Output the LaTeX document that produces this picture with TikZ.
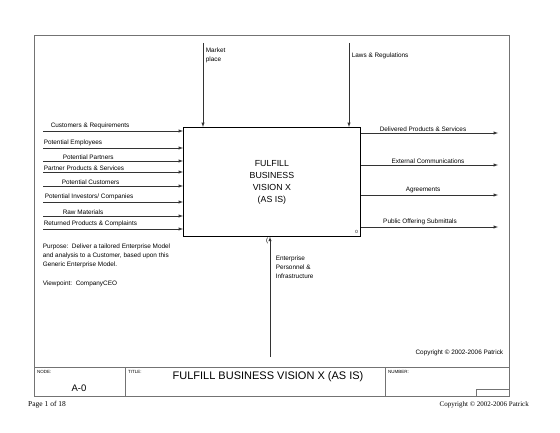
\documentclass[tikz,border=0pt]{standalone}
\usepackage{fontspec}
\setmainfont{Liberation Sans}
\newfontfamily\pagefont{Liberation Serif}
\usetikzlibrary{
    arrows,
    positioning
}

\begin{document}
\begin{tikzpicture}[x=1pt, y=-1pt, >=latex,
    lbl/.style={font=\fontsize{6.4}{8.8}\selectfont, inner sep=0.6pt},
    frm/.style={draw=black!55, line width=0.6pt},
    flow/.style={->, black!80, line width=0.5pt},
    tiny/.style={font=\fontsize{4.5}{5}\selectfont, inner sep=0pt, anchor=north west}]
\useasboundingbox (0,0) rectangle (560,433);

% sheet frame and title block
\draw[frm] (34,35) rectangle (509,396);
\draw[frm] (34,367) -- (509,367);
\draw[frm] (125,367) -- (125,396);
\draw[frm] (385,367) -- (385,396);
\draw[frm] (476,396) |- (509,389);

% activity box
\node[draw, line width=0.8pt, minimum width=177pt, minimum height=109pt,
      anchor=north west, align=center, font=\fontsize{8.8}{12}\selectfont]
      (fn) at (183,127) {FULFILL\\BUSINESS\\VISION X\\(AS IS)};
\node[tiny, anchor=south east] (fnno) at (358,234) {0};

% inputs
\coordinate (i1) at (43,131);
\coordinate (i2) at (43,148);
\coordinate (i3) at (43,161);
\coordinate (i4) at (43,172);
\coordinate (i5) at (43,186);
\coordinate (i6) at (43,202);
\coordinate (i7) at (43,216);
\coordinate (i8) at (43,229);
\draw[flow] (i1) -- (i1 -| fn.west);
\draw[flow] (i2) -- (i2 -| fn.west);
\draw[flow] (i3) -- (i3 -| fn.west);
\draw[flow] (i4) -- (i4 -| fn.west);
\draw[flow] (i5) -- (i5 -| fn.west);
\draw[flow] (i6) -- (i6 -| fn.west);
\draw[flow] (i7) -- (i7 -| fn.west);
\draw[flow] (i8) -- (i8 -| fn.west);
\node[lbl, anchor=south west] (li1) at (50,130) {Customers \& Requirements};
\node[lbl, anchor=south west] (li2) at (43,147) {Potential Employees};
\node[lbl, anchor=south west] (li3) at (62,160) {Potential Partners};
\node[lbl, anchor=south west] (li4) at (43,171) {Partner Products \& Services};
\node[lbl, anchor=south west] (li5) at (61,185) {Potential Customers};
\node[lbl, anchor=south west] (li6) at (44,201) {Potential Investors/ Companies};
\node[lbl, anchor=south west] (li7) at (62,215) {Raw Materials};
\node[lbl, anchor=south west] (li8) at (43,228) {Returned Products \& Complaints};

% outputs
\coordinate (o1) at (498,133);
\coordinate (o2) at (498,165);
\coordinate (o3) at (498,195);
\coordinate (o4) at (498,227);
\draw[flow] (o1 -| fn.east) -- (o1);
\draw[flow] (o2 -| fn.east) -- (o2);
\draw[flow] (o3 -| fn.east) -- (o3);
\draw[flow] (o4 -| fn.east) -- (o4);
\node[lbl, anchor=south] (lo1) at (423,132) {Delivered Products \& Services};
\node[lbl, anchor=south] (lo2) at (428,164) {External Communications};
\node[lbl, anchor=south] (lo3) at (423,194) {Agreements};
\node[lbl, anchor=south] (lo4) at (420,226) {Public Offering Submittals};

% controls
\coordinate (c1) at (203,43);
\coordinate (c2) at (349,43);
\draw[flow] (c1) -- (c1 |- fn.north);
\draw[flow] (c2) -- (c2 |- fn.north);
\node[lbl, anchor=north west, align=left] (lc1) at (205,47) {Market\\place};
\node[lbl, anchor=north west] (lc2) at (351,52) {Laws \& Regulations};

% mechanism
\coordinate (m1) at (270,357);
\draw[flow] (m1) -- (m1 |- fn.south);
\node[lbl, anchor=east, inner sep=0pt] (tun) at (268.5,241) {(};
\node[lbl, anchor=north west, align=left] (lm1) at (275,255)
      {Enterprise\\Personnel \&\\Infrastructure};

% notes
\node[lbl, anchor=north west, align=left] (purpose) at (42,243)
      {Purpose:\ \ Deliver a tailored Enterprise Model\\and analysis to a Customer, based upon this\\Generic Enterprise Model.};
\node[lbl, anchor=north west] (viewpt) at (42,280) {Viewpoint:\ \ CompanyCEO};
\node[lbl, anchor=south east] (copyin) at (504,357) {Copyright \textcopyright{} 2002-2006 Patrick};

% title block texts
\node[tiny] (nodehd) at (37,370) {NODE:};
\node[font=\fontsize{9.5}{11}\selectfont] (nodeno) at (79,388) {A-0};
\node[tiny] (titlehd) at (128,370) {TITLE:};
\node[font=\fontsize{11}{13}\selectfont] (title) at (268,377) {FULFILL BUSINESS VISION X (AS IS)};
\node[tiny] (numhd) at (388,370) {NUMBER:};

% page footer
\node[font=\pagefont\fontsize{7.5}{9}\selectfont, anchor=west, inner sep=0pt] (page) at (28,405) {Page 1 of 18};
\node[font=\pagefont\fontsize{7}{9}\selectfont, anchor=east, inner sep=0pt] (copyout) at (529,405) {Copyright \textcopyright{} 2002-2006 Patrick};
\end{tikzpicture}
\end{document}
